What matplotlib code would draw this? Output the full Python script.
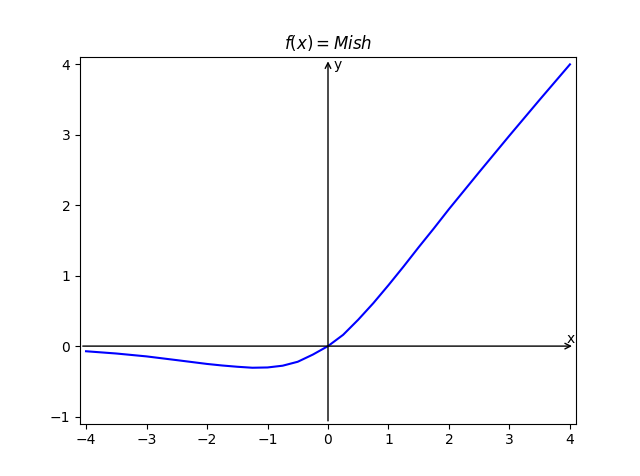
import matplotlib.pyplot as plt

# Mish curve, values
x_vals = [-4, -3.5, -3, -2.5, -2, -1.75, -1.5, -1.25, -1, -0.75, -0.5, -0.25,
          0, 0.25, 0.5, 0.75, 1, 1.25, 1.5, 1.75, 2, 2.5, 3, 3.5, 4]
y_vals = [-0.073, -0.105, -0.146, -0.199, -0.253, -0.275, -0.293, -0.307, -0.303,
          -0.278, -0.222, -0.12, 0.0, 0.16, 0.375, 0.61, 0.865, 1.13, 1.404,
          1.67, 1.944, 2.469, 2.987, 3.496, 3.997]

fig, ax = plt.subplots(figsize=(6.4, 4.76), dpi=100)
ax.plot(x_vals, y_vals, color='blue')
ax.set_xlim(-4.1, 4.1)
ax.set_ylim(-1.1, 4.1)
ax.set_title('$f(x) = Mish$')

# axis arrows through origin
ax.annotate('', xy=(4.08, 0), xytext=(-4.1, 0),
            arrowprops=dict(arrowstyle='->', color='black', lw=1))
ax.annotate('', xy=(0, 4.08), xytext=(0, -1.1),
            arrowprops=dict(arrowstyle='->', color='black', lw=1))
ax.text(3.94, 0.05, 'x', fontsize=10)
ax.text(0.1, 3.93, 'y', fontsize=10)

plt.savefig('out.png', dpi=100)
